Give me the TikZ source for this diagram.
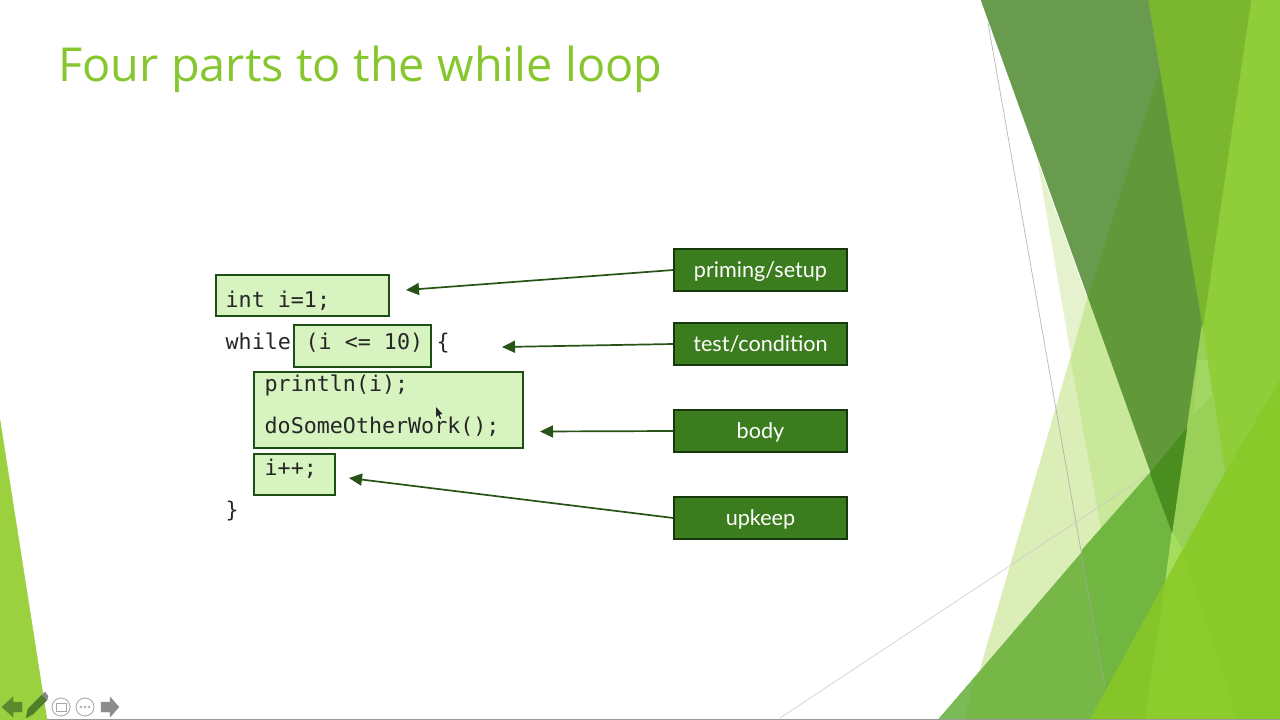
\documentclass[tikz,border=0pt]{standalone}
\usepackage{fontspec}
\setmainfont{Lato}
\setmonofont{DejaVu Sans Mono}
\newfontfamily\titlefont[LetterSpace=0.2]{Open Sans}
\usetikzlibrary{arrows.meta}
\definecolor{hi}{HTML}{D6F3C0}
\definecolor{hiedge}{HTML}{1F4E14}
\definecolor{lab}{HTML}{3B7D1E}
\definecolor{labedge}{HTML}{17380C}
\definecolor{arrowc}{HTML}{275317}
\definecolor{titlec}{HTML}{86C72F}
\newcommand{\lablift}[1]{\raisebox{-7bp}[0pt][0pt]{#1}}
\tikzset{
 facet/.code={\definecolor{tmpc}{HTML}{#1}\tikzset{fill=tmpc,draw=tmpc,line width=0.4bp,line join=round}},
 hibox/.style={draw=hiedge,line width=1.5bp,fill=hi,inner sep=0pt,rectangle},
 labbox/.style={draw=labedge,line width=1.3bp,fill=lab,text=white,inner sep=0pt,rectangle,
   minimum width=173bp,minimum height=42bp,font=\fontsize{21.7}{25}\selectfont},
 code/.style={anchor=base west,inner sep=0pt,text=black!85,font=\ttfamily\fontsize{21.75}{26}\selectfont},
 pointer/.style={draw=arrowc,line width=1.7bp,-{Triangle[length=13bp,width=12bp]}},
 thinline/.style={draw=#1,line width=0.7bp},
 navc/.style={draw=gray!70,line width=0.8bp,fill=white}
}
\begin{document}
\begin{tikzpicture}[x=1bp,y=-1bp]
\useasboundingbox (0,0) rectangle (1280,720);
\fill[white] (0,0) rectangle (1280,720);
\begin{scope}
\clip (0,0) rectangle (1280,720);
% facets
\filldraw[facet=9BD03F] (0,420) -- (47,720) -- (0,720) -- cycle;
\filldraw[facet=E6F2CE] (1038,163) -- (1101,528) -- (1150,473) -- cycle;
\filldraw[facet=DBEEB8] (1088,297) -- (980,670) -- (1150,473) -- cycle;
\filldraw[facet=C9E89A] (1088,297) -- (1071,360) -- (1101,528) -- (1150,473) -- cycle;
\filldraw[facet=8FCE39] (1251,0) -- (1280,0) -- (1280,380) -- (1225,473) -- (1202,325) -- (1198,360) -- cycle;
\filldraw[facet=7BB62F] (1148,0) -- (1251,0) -- (1198,360) -- (1202,325) -- cycle;
\filldraw[facet=699B4E] (981,0) -- (1148,0) -- (1159.6,70) -- (1088,297) -- cycle;
\filldraw[facet=619839] (1159.6,70) -- (1202,325) -- (1172,532) -- (1088,297) -- cycle;
\filldraw[facet=98D058] (1202,325) -- (1225,473) -- (1182.6,550) -- (1172,532) -- cycle;
\filldraw[facet=A3D764] (1198,360) -- (1207,360) -- (1212,395) -- (1193,415) -- cycle;
\filldraw[facet=76B747] (938,720) -- (1150,473) -- (1172,532) -- (1165.4,582) -- (1090,720) -- cycle;
\filldraw[facet=70B640] (1082,550) -- (1150,473) -- (1172,532) -- (1165.4,582) -- (1105,690) -- cycle;
\filldraw[facet=4B8E20] (1150,473) -- (1187,428) -- (1172,532) -- cycle;
\filldraw[facet=7ABA57] (938,720) -- (974,680) -- (964,720) -- cycle;
\filldraw[facet=A4DE5C] (1172,532) -- (1182.6,550) -- (1165.4,582) -- cycle;
\filldraw[facet=89CA2B] (1280,380) -- (1225,473) -- (1165.4,582) -- (1090,720) -- (1280,720) -- cycle;
\filldraw[facet=85C52A] (1165.4,582) -- (1090,720) -- (1145,720) -- cycle;
\filldraw[facet=8CCD2D] (1165.4,582) -- (1145,720) -- (1237,720) -- (1182.6,550) -- cycle;
\end{scope}
% thin lines
\draw[thinline=black!35,opacity=.8] (988,23) -- (1105,687);
\draw[thinline=black!22,opacity=.8] (780,718) -- (1150,473);
\draw[draw=black!40,line width=1bp] (47,719.5) -- (1280,719.5);
% title
\node[anchor=base west,inner sep=0pt,text=titlec] (title) at (58,82) {\titlefont\fontsize{47}{56}\selectfont Four parts to the while loop};
% highlighted boxes
\node[hibox,minimum width=173bp,minimum height=41bp] (setupbox) at (302.5,295.5) {};
\node[hibox,minimum width=137bp,minimum height=42bp] (condbox) at (362.5,346) {};
\node[hibox,minimum width=269bp,minimum height=76bp] (bodybox) at (388.5,410) {};
\node[hibox,minimum width=81bp,minimum height=41bp] (upkeepbox) at (294.5,474.5) {};
% code
\node[code] (c1) at (225.5,307) {int i=1;};
\node[code] (c2) at (225.5,349) {while};
\node[code] (c3) at (305.5,349) {(i <= 10)};
\node[code] (c4) at (436.5,349) {\{};
\node[code] (c5) at (264.5,391) {println(i);};
\node[code] (c6) at (264.5,433) {doSomeOtherWork();};
\node[code] (c7) at (264.5,475) {i++;};
\node[code] (c8) at (225.5,517) {\}};
% labels
\node[labbox] (l1) at (760.5,270) {\lablift{priming/setup}};
\node[labbox] (l2) at (760.5,344) {\lablift{test/condition}};
\node[labbox] (l3) at (760.5,431) {\lablift{body}};
\node[labbox] (l4) at (760.5,518) {\lablift{upkeep}};
% arrows
\coordinate (t1) at (406,290);
\coordinate (t2) at (502,347);
\coordinate (t3) at (540,431.5);
\coordinate (t4) at (349,478);
\draw[pointer] (l1.west) -- (t1);
\draw[pointer] (l2.west) -- (t2);
\draw[pointer] (l3.west) -- (t3);
\draw[pointer] (l4.west) -- (t4);
% mouse cursor
\fill[black!85] (436,407) -- (436,417) -- (438.2,415) -- (440,419) -- (441.3,418.3) -- (439.6,414.6) -- (442.4,414) -- cycle;
% slideshow controls
\filldraw[facet=5A8A2C] (2,707) -- (13,697) -- (13,702) -- (22,702) -- (22,712) -- (13,712) -- (13,717) -- cycle;
\filldraw[facet=4F7F28] (26,718) -- (28,709) -- (42,695) -- (47,700) -- (33,714) -- cycle;
\filldraw[facet=888888] (42,695) -- (45,692) -- (48,696) -- (47,700) -- cycle;
\draw[navc] (61,707) circle (9);
\draw[gray!70,line width=0.5bp] (56,703) rectangle (66,711);
\draw[navc] (85,707) circle (9);
\foreach \xx in {81,85,89} \draw[gray!70,line width=0.5bp] (\xx,707) circle (1);
\filldraw[facet=8C8C8C] (101,702) -- (110,702) -- (110,697) -- (119,707) -- (110,717) -- (110,712) -- (101,712) -- cycle;
\end{tikzpicture}
\end{document}
